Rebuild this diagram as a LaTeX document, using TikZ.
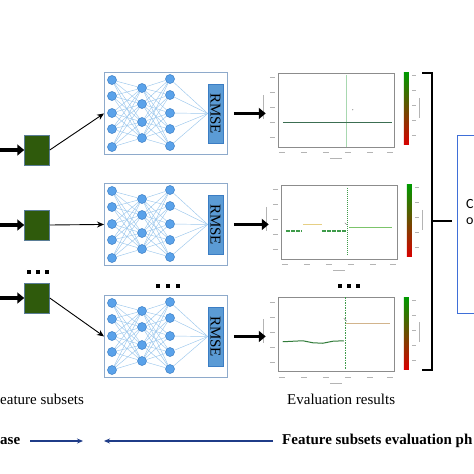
\documentclass[tikz,border=0pt]{standalone}
\usepackage{fontspec}
\setmainfont{Liberation Serif}
\newfontfamily\sansf{Carlito}
\usetikzlibrary{arrows.meta}
\definecolor{sqgreen}{HTML}{2F5A0C}
\definecolor{sqedge}{HTML}{5A7D96}
\definecolor{boxblue}{HTML}{8EAACB}
\definecolor{nfill}{HTML}{5AA2EA}
\definecolor{nedge}{HTML}{3B7DC4}
\definecolor{linkblue}{HTML}{9CC7EC}
\definecolor{rfill}{HTML}{5B9BD5}
\definecolor{outblue}{HTML}{3F6FD8}
\definecolor{phaseblue}{HTML}{1F3C88}
\definecolor{axgray}{HTML}{8C8C8C}
\definecolor{tickgray}{HTML}{B4B4B4}
\definecolor{dkgreen}{HTML}{3C6E52}
\definecolor{ltgreen}{HTML}{A8D8B0}
\definecolor{midgreen}{HTML}{3E9B4A}
\definecolor{paleyel}{HTML}{E6CF84}
\definecolor{lgreen}{HTML}{7CC46A}
\definecolor{tan}{HTML}{D2B48C}
\tikzset{
  subsetbox/.style={draw=sqedge, line width=0.5pt, fill=sqgreen, minimum width=25pt, minimum height=30pt, inner sep=0},
  nnbox/.style={draw=boxblue, line width=0.9pt, minimum width=123pt, minimum height=82pt, inner sep=0},
  neuron/.style={circle, fill=nfill, draw=nedge, line width=0.5pt, minimum size=9pt, inner sep=0},
  synapse/.style={draw=linkblue, line width=0.45pt},
  rmsebox/.style={draw=nedge, fill=rfill, line width=0.5pt, minimum width=59pt, minimum height=15pt, inner sep=0, rotate=-90, font=\fontsize{15}{15}\selectfont},
  plotbox/.style={draw=axgray, line width=0.5pt, minimum width=116pt, minimum height=74pt, inner sep=0},
  fatarrow/.style={line width=3.6pt, -{Triangle[length=7pt,width=11pt]}},
  thinarrow/.style={line width=0.9pt, -{Stealth[length=7pt,width=6pt]}},
  phasearrow/.style={draw=phaseblue, line width=1.5pt, -{Stealth[length=6pt,width=5pt]}},
  tickmark/.style={draw=tickgray, line width=0.8pt},
  label/.style={font=\fontsize{15}{17}\selectfont, inner sep=0},
  boldlabel/.style={font=\bfseries\fontsize{15}{17}\selectfont, inner sep=0},
  outtext/.style={font=\sansf\fontsize{14}{16}\selectfont, inner sep=0, align=left},
}
\begin{document}
\begin{tikzpicture}[x=1pt,y=-1pt]
\useasboundingbox (0,0) rectangle (474,474);
\clip (0,0) rectangle (474,474);

% feature subsets
\node[subsetbox] (s1) at (37,150) {};
\node[subsetbox] (s2) at (37,225) {};
\node[subsetbox] (s3) at (37,298) {};
\coordinate (in1) at (0,150);
\coordinate (in2) at (0,225);
\coordinate (in3) at (0,298);
\foreach \k in {1,2,3} \draw[fatarrow] (in\k) -- (s\k.west);
\foreach \xx in {29,38,47} \fill (\xx-2,270) rectangle (\xx+2,274);

% neural networks
\foreach \b/\tp in {1/72,2/183,3/295}{
  \begin{scope}[shift={(104,\tp)}]
    \node[nnbox, anchor=north west] (b\b) at (0,0) {};
    \foreach \i/\yy in {1/8,2/24,3/41,4/57,5/75} \node[neuron] (a\b-\i) at (8,\yy) {};
    \foreach \i/\yy in {1/16,2/32,3/50,4/66} \node[neuron] (h\b-\i) at (38,\yy) {};
    \foreach \i/\yy in {1/7,2/23,3/41,4/57,5/74} \node[neuron] (c\b-\i) at (66,\yy) {};
    \node[rmsebox] (r\b) at (111.5,41.5) {RMSE};
  \end{scope}
  \foreach \i in {1,...,5}{
    \foreach \j in {1,...,4}{
      \draw[synapse] (a\b-\i) -- (h\b-\j);
      \draw[synapse] (h\b-\j) -- (c\b-\i);
    }
    \draw[synapse] (c\b-\i) -- (r\b.south);
  }
}
\draw[thinarrow] (s1.east) -- (b1.west);
\draw[thinarrow] (s2.east) -- (b2.west);
\draw[thinarrow] (s3.east) -- (b3.west);
\foreach \xx in {158,168,178} \fill (\xx-2,284) rectangle (\xx+2,288);

% evaluation plots
\node[plotbox] (p1) at (336,110) {};
\node[plotbox] (p2) at (339,222) {};
\node[plotbox] (p3) at (336,334.5) {};
\foreach \p in {p1,p2,p3}{
  \begin{scope}[shift={(\p.north west)}]
    \foreach \yy in {5,20,35,50,65} \draw[tickmark] (-8,\yy) -- (-3,\yy);
    \foreach \xx in {4,26,48,70,92,112} \draw[tickmark] (\xx-3,80) -- (\xx+3,80);
    \draw[tickmark] (52,86) -- (64,86);
    \draw[tickmark] (-14,22) -- (-14,46);
    \shade[top color=green!60!black, middle color=yellow!80!orange, bottom color=red!85!black] (126,0) rectangle (131,72);
    \foreach \yy in {3,18,33,48,63} \draw[tickmark, line width=0.6pt] (134,\yy) -- (138,\yy);
    \draw[tickmark, line width=0.6pt] (142,25) -- (142,45);
  \end{scope}
}
% plot 1 data
\begin{scope}[shift={(p1.north west)}]
  \draw[ltgreen, line width=0.6pt] (69,2) -- (69,74);
  \draw[dkgreen, line width=1.3pt] (5,50) -- (114,50);
  \fill[axgray] (75,37) circle (0.6);
\end{scope}
% plot 2 data
\begin{scope}[shift={(p2.north west)}]
  \draw[midgreen, line width=0.6pt, dash pattern=on 1pt off 1pt] (67,3) -- (67,70);
  \draw[midgreen, line width=1.5pt, dash pattern=on 2pt off 0.5pt] (5,46) -- (21,46);
  \draw[paleyel, line width=1pt] (22,40) -- (41,40);
  \draw[midgreen, line width=1.5pt, dash pattern=on 2pt off 0.5pt] (41,46) -- (65,46);
  \draw[lgreen, line width=1.3pt] (68,43) -- (111,43);
  \draw[axgray, line width=0.4pt] (64,38) -- (66,40);
\end{scope}
% plot 3 data
\begin{scope}[shift={(p3.north west)}]
  \draw[midgreen, line width=0.6pt, dash pattern=on 1.5pt off 1pt] (68,0) -- (68,72);
  \draw[midgreen!80!black, line width=1pt] (5,44.5) -- (15,44) -- (25,43.5) -- (35,45.5) -- (45,46) -- (55,44) -- (66,43.5);
  \draw[tan, line width=1.2pt] (68,26.5) -- (112,26.5);
  \draw[axgray, line width=0.4pt] (66,21) -- (69,24);
\end{scope}
\foreach \xx in {340,349,358} \fill (\xx-2,284) rectangle (\xx+2,288);

\draw[fatarrow, shorten <=6pt, shorten >=12pt] (b1.east) -- (b1.east -| p1.west);
\draw[fatarrow, shorten <=6pt, shorten >=12pt] (b2.east) -- (b2.east -| p2.west);
\draw[fatarrow, shorten <=6pt, shorten >=12pt] (b3.east) -- (b3.east -| p3.west);

% bracket and output box
\node[draw=outblue, line width=1.2pt, minimum width=40pt, minimum height=178pt, anchor=north west, inner sep=0] (out) at (457,135) {};
\draw[line width=1.8pt] (422,73) -- (432,73) -- (432,370) -- (422,370);
\coordinate (brk) at (432,221);
\draw[line width=1.8pt, shorten >=5pt] (brk) -- (brk -| out.west);
\node[outtext, anchor=north west] (outtxt) at (466,199) {C\\o};

% labels
\node[label, anchor=west] (lsub) at (0,399) {eature subsets};
\node[label, anchor=west] (lres) at (287,399) {Evaluation results};
\node[boldlabel, anchor=west] (lgen) at (0,441) {ase};
\node[boldlabel, anchor=west] (leval) at (282,441) {Feature subsets evaluation ph};
\coordinate (ga) at (30,441);
\coordinate (gb) at (83,441);
\coordinate (ea) at (273,441);
\coordinate (eb) at (104,441);
\draw[phasearrow] (ga) -- (gb);
\draw[phasearrow] (ea) -- (eb);
\end{tikzpicture}
\end{document}
